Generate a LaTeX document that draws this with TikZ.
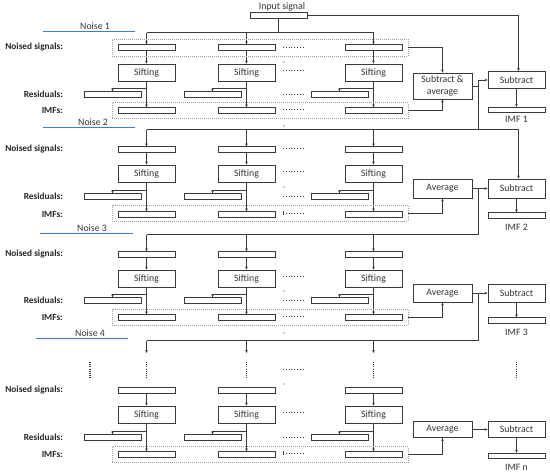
\documentclass[tikz,border=0pt]{standalone}
\usepackage{fontspec}
\setmainfont{Carlito}
\usetikzlibrary{arrows.meta}
\definecolor{ln}{HTML}{3A3A3A}
\definecolor{noiseblue}{RGB}{60,125,215}
\definecolor{dashgray}{HTML}{A0A0A0}
\tikzset{
  arr/.style={draw=ln, line width=0.75pt, -{Stealth[length=3pt,width=2.6pt]}},
  wire/.style={draw=ln, line width=0.75pt},
  sig/.style={draw=ln, line width=0.75pt, minimum width=57pt, minimum height=5.5pt, inner sep=0pt},
  proc/.style={draw=ln, line width=0.75pt, minimum width=57pt, minimum height=17pt, inner sep=0pt, font=\fontsize{9.8}{11}\selectfont, text=black!80},
  lbl/.style={anchor=east, font=\bfseries\fontsize{9.3}{10}\selectfont, text=black!85, inner sep=0pt},
  txt/.style={font=\fontsize{9.8}{11}\selectfont, text=black!80, inner sep=0pt},
  grp/.style={draw=dashgray, dash pattern=on 1pt off 1pt, line width=0.6pt},
  noiseline/.style={draw=noiseblue, line width=1pt},
  hdots/.style={draw=ln, line width=0.8pt, dash pattern=on 0.8pt off 2pt},
  vdots/.style={draw=black!80, line width=1.3pt, dash pattern=on 0.9pt off 1.3pt},
}
\begin{document}
\begin{tikzpicture}[x=1pt,y=-1pt]
\useasboundingbox (0,0) rectangle (550,475);
% input
\node[sig] (in) at (279,15.5) {};
\node[txt] (intxt) at (282,6.5) {Input signal};
% blocks
\foreach \bb/\NN/\SS/\RR/\II/\DD in {1/47.5/72.5/94.5/110.5/110.5, 2/149.5/173.5/196.5/214.5/213, 3/254.5/278.5/300.5/317.5/317, 4/390.5/414.5/437.5/454.5/454.5}{
  \foreach \cc/\XX in {1/146.5,2/246.5,3/373.5}{
    \node[sig] (n\bb\cc) at (\XX,\NN) {};
    \node[proc] (s\bb\cc) at (\XX,\SS) {Sifting};
    \node[sig] (r\bb\cc) at (\XX-34,\RR) {};
    \node[sig] (i\bb\cc) at (\XX,\II) {};
    \coordinate (j\bb\cc) at (\XX,\RR-6);
    \draw[arr] (n\bb\cc) -- (s\bb\cc);
    \draw[arr] (s\bb\cc) -- (i\bb\cc);
    \draw[arr] (j\bb\cc) -| (r\bb\cc.north);
  }
  \node[lbl] (ln\bb) at (63,\NN) {Noised signals:};
  \node[lbl] (lr\bb) at (63,\RR) {Residuals:};
  \node[lbl] (li\bb) at (63,\II) {IMFs:};
  \node[grp, minimum width=296pt, minimum height=16pt, inner sep=0pt] (gi\bb) at (260,\DD) {};
  \draw[hdots] (283,\SS-2) -- (305,\SS-2);
  \draw[hdots] (283,\RR) -- (304,\RR);
  \draw[hdots] (283,\II-1) -- (304,\II-1);
}
% noised-row dots
\draw[hdots] (283,47.5) -- (303,47.5);
\draw[hdots] (283,148.5) -- (303,148.5);
\draw[hdots] (283,369.5) -- (304,369.5);
% single dots
\foreach \yy in {62,126,187,291,333,384}{\fill[ln] (284,\yy) circle (0.7pt);}
% tick marks on some dotted rows
\draw[ln, line width=0.6pt] (283.5,211) -- (283.5,215);
\draw[ln, line width=0.6pt] (283.5,451) -- (283.5,455);
% branch lines
\coordinate (b1) at (278.5,32.5);
\draw[wire] (in.south -| b1) -- (b1);
\draw[wire] (n11.north |- b1) -- (n13.north |- b1);
\foreach \cc in {1,2,3}{\draw[arr] (n1\cc.north |- b1) -- (n1\cc.north);}
\coordinate (b2) at (518.5,129.5);
\draw[wire] (n21.north |- b2) -- (b2);
\foreach \cc in {1,2,3}{\draw[arr] (n2\cc.north |- b2) -- (n2\cc.north);}
\coordinate (b3) at (478.5,234.5);
\draw[wire] (n31.north |- b3) -- (b3);
\foreach \cc in {1,2,3}{\draw[arr] (n3\cc.north |- b3) -- (n3\cc.north);}
\coordinate (b4) at (478.5,340.5);
\draw[wire] (n41.north |- b4) -- (b4);
\foreach \cc/\XX in {1/146.5,2/246.5,3/373.5}{\coordinate (a4\cc) at (\XX,353); \draw[arr] (n4\cc.north |- b4) -- (a4\cc);}
% vertical dotted lines in block 4
\foreach \XX in {90,146.5,246.5,373.5,516.5}{\draw[vdots] (\XX,362) -- (\XX,378);}
% group box around noised signals in block 1
\node[grp, minimum width=296pt, minimum height=17pt, inner sep=0pt] (gn1) at (260,47.5) {};
% right side processing
\node[proc, minimum width=59pt, minimum height=26pt, align=center, font=\fontsize{9.8}{12}\selectfont] (sa1) at (442.5,86) {Subtract \&\\average};
\node[proc] (sub1) at (516.5,80) {Subtract};
\node[sig] (imf1) at (516.5,110) {};
\node[txt] (imt1) at (516.5,119.5) {IMF 1};
\node[proc, minimum width=59pt, minimum height=19pt] (av2) at (442.5,188.5) {Average};
\node[proc, minimum height=19pt] (sub2) at (516.5,188.5) {Subtract};
\node[sig] (imf2) at (516.5,215.5) {};
\node[txt] (imt2) at (516.5,227.5) {IMF 2};
\node[proc, minimum width=59pt, minimum height=18pt] (av3) at (442.5,293) {Average};
\node[proc, minimum height=18pt] (sub3) at (516.5,293) {Subtract};
\node[sig] (imf3) at (516.5,320.5) {};
\node[txt] (imt3) at (516.5,332) {IMF 3};
\node[proc, minimum width=59pt, minimum height=16pt] (av4) at (442.5,429.5) {Average};
\node[proc, minimum height=16pt] (sub4) at (516.5,429.5) {Subtract};
\node[sig] (imf4) at (516.5,456) {};
\node[txt] (imt4) at (516.5,467.5) {IMF n};
% block 1 right connections
\coordinate (tin) at (518.5,15.5);
\draw[wire] (in.east) -- (tin);
\draw[arr] (tin) -- (sub1.north -| tin);
\draw[arr] (gn1.east) -| (sa1.north);
\draw[arr] (gi1.east) -| (sa1.south);
\coordinate (k1) at (478.5,86);
\draw[wire] (sa1.east) -- (k1);
\coordinate (k1u) at (478.5,80);
\draw[arr] (k1u) -- (sub1.west);
\draw[wire] (k1u) -- (478.5,129.5);
\draw[arr] (sub1) -- (imf1);
% block 2
\draw[arr] (b2) -- (sub2.north -| b2);
\draw[arr] (gi2.east) -| (av2.south);
\coordinate (k2) at (478.5,188.5);
\draw[arr] (av2.east) -- (sub2.west);
\draw[wire] (k2) -- (b3);
\draw[arr] (sub2) -- (imf2);
% block 3
\draw[arr] (gi3.east) -| (av3.south);
\coordinate (k3) at (478.5,293);
\draw[arr] (av3.east) -- (sub3.west);
\draw[wire] (k3) -- (b4);
\draw[arr] (sub3) -- (imf3);
% block 4
\draw[arr] (gi4.east) -| (av4.south);
\draw[arr] (av4.east) -- (sub4.west);
\draw[arr] (sub4) -- (imf4);
% noise lines
\coordinate (nz1a) at (43,31.5); \coordinate (nz1b) at (135,31.5);
\draw[noiseline] (nz1a) -- (nz1b);
\node[txt] (nt1) at (95,26) {Noise 1};
\coordinate (nz2a) at (43,127.5); \coordinate (nz2b) at (135,127.5);
\draw[noiseline] (nz2a) -- (nz2b);
\node[txt] (nt2) at (93,122) {Noise 2};
\coordinate (nz3a) at (40,233.5); \coordinate (nz3b) at (133,233.5);
\draw[noiseline] (nz3a) -- (nz3b);
\node[txt] (nt3) at (92,228.5) {Noise 3};
\coordinate (nz4a) at (36,338.5); \coordinate (nz4b) at (128,338.5);
\draw[noiseline] (nz4a) -- (nz4b);
\node[txt] (nt4) at (90,333) {Noise 4};
\end{tikzpicture}
\end{document}
